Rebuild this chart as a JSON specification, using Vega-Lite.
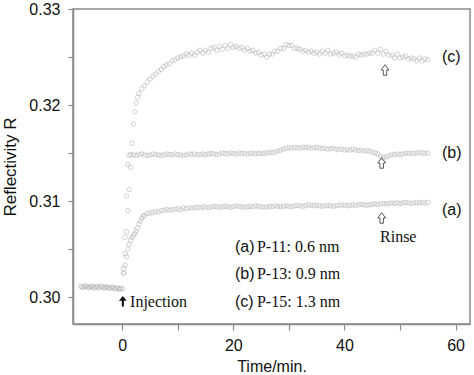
{
  "$schema": "https://vega.github.io/schema/vega-lite/v6.json",
  "autosize": "none",
  "width": 397,
  "height": 315,
  "padding": {"left": 73, "top": 9, "right": 4, "bottom": 51},
  "background": "white",
  "config": {
    "view": {"stroke": "#8a8a8a", "strokeWidth": 1.5},
    "axis": {
      "domainColor": "#8a8a8a", "domainWidth": 1.5, "tickColor": "#8a8a8a", "tickWidth": 1.2,
      "grid": false, "labelFont": "Liberation Sans", "labelFontSize": 16, "labelColor": "#111",
      "titleFont": "Liberation Sans", "titleFontSize": 16, "titleFontWeight": "normal", "titleColor": "#111"
    }
  },
  "datasets": {
    "curves": [
      {"s":"base","t":-7.5,"R":0.30112},{"s":"base","t":-7.25,"R":0.30105},{"s":"base","t":-7,"R":0.30098},{"s":"base","t":-6.75,"R":0.3011},{"s":"base","t":-6.5,"R":0.30115},{"s":"base","t":-6.25,"R":0.30102},{"s":"base","t":-6,"R":0.30096},{"s":"base","t":-5.75,"R":0.30108},{"s":"base","t":-5.5,"R":0.30112},{"s":"base","t":-5.25,"R":0.301},{"s":"base","t":-5,"R":0.30094},{"s":"base","t":-4.75,"R":0.30106},{"s":"base","t":-4.5,"R":0.3011},{"s":"base","t":-4.25,"R":0.30098},{"s":"base","t":-4,"R":0.30102},{"s":"base","t":-3.75,"R":0.30112},{"s":"base","t":-3.5,"R":0.30104},{"s":"base","t":-3.25,"R":0.30092},{"s":"base","t":-3,"R":0.301},{"s":"base","t":-2.75,"R":0.30108},{"s":"base","t":-2.5,"R":0.30096},{"s":"base","t":-2.25,"R":0.30088},{"s":"base","t":-2,"R":0.30098},{"s":"base","t":-1.75,"R":0.30104},{"s":"base","t":-1.5,"R":0.30092},{"s":"base","t":-1.25,"R":0.30086},{"s":"base","t":-1,"R":0.30096},{"s":"base","t":-0.75,"R":0.30088},{"s":"base","t":-0.5,"R":0.3008},{"s":"base","t":-0.25,"R":0.30092},{"s":"base","t":0,"R":0.30085},
      {"s":"c","t":0.25,"R":0.3025},{"s":"c","t":0.5,"R":0.3045},{"s":"c","t":0.75,"R":0.3068},{"s":"c","t":1.0,"R":0.309},{"s":"c","t":1.25,"R":0.3112},{"s":"c","t":1.5,"R":0.3135},{"s":"c","t":1.75,"R":0.316},{"s":"c","t":2.0,"R":0.318},{"s":"c","t":2.25,"R":0.3193},{"s":"c","t":2.5,"R":0.3202},{"s":"c","t":2.75,"R":0.3208},{"s":"c","t":3.0,"R":0.3212},{"s":"c","t":3.5,"R":0.3217},{"s":"c","t":4.0,"R":0.322},{"s":"c","t":4.5,"R":0.3224},{"s":"c","t":5.0,"R":0.3227},{"s":"c","t":5.5,"R":0.323},{"s":"c","t":6.0,"R":0.3232},{"s":"c","t":6.5,"R":0.3235},{"s":"c","t":7.0,"R":0.3237},{"s":"c","t":7.5,"R":0.324},{"s":"c","t":8.0,"R":0.3242},{"s":"c","t":8.5,"R":0.3243},{"s":"c","t":9.0,"R":0.3246},{"s":"c","t":9.5,"R":0.3247},{"s":"c","t":10,"R":0.3249},{"s":"c","t":10.5,"R":0.325},{"s":"c","t":11,"R":0.3251},{"s":"c","t":11.5,"R":0.3253},{"s":"c","t":12,"R":0.3252},{"s":"c","t":12.5,"R":0.3254},{"s":"c","t":13,"R":0.3252},{"s":"c","t":13.5,"R":0.3255},{"s":"c","t":14,"R":0.3257},{"s":"c","t":14.5,"R":0.3254},{"s":"c","t":15,"R":0.3257},{"s":"c","t":15.5,"R":0.3255},{"s":"c","t":16,"R":0.3259},{"s":"c","t":16.5,"R":0.326},{"s":"c","t":17,"R":0.3257},{"s":"c","t":17.5,"R":0.3261},{"s":"c","t":18,"R":0.3258},{"s":"c","t":18.5,"R":0.3262},{"s":"c","t":19,"R":0.3259},{"s":"c","t":19.5,"R":0.3263},{"s":"c","t":20,"R":0.326},{"s":"c","t":20.5,"R":0.3261},{"s":"c","t":21,"R":0.3259},{"s":"c","t":21.5,"R":0.326},{"s":"c","t":22,"R":0.3257},{"s":"c","t":22.5,"R":0.3259},{"s":"c","t":23,"R":0.3256},{"s":"c","t":23.5,"R":0.3257},{"s":"c","t":24,"R":0.3254},{"s":"c","t":24.5,"R":0.3255},{"s":"c","t":25,"R":0.3252},{"s":"c","t":25.5,"R":0.3253},{"s":"c","t":26,"R":0.325},{"s":"c","t":26.5,"R":0.3253},{"s":"c","t":27,"R":0.3253},{"s":"c","t":27.5,"R":0.3256},{"s":"c","t":28,"R":0.3256},{"s":"c","t":28.5,"R":0.3259},{"s":"c","t":29,"R":0.3259},{"s":"c","t":29.5,"R":0.3263},{"s":"c","t":30,"R":0.3262},{"s":"c","t":30.5,"R":0.3262},{"s":"c","t":31,"R":0.3259},{"s":"c","t":31.5,"R":0.3259},{"s":"c","t":32,"R":0.3258},{"s":"c","t":32.5,"R":0.3256},{"s":"c","t":33,"R":0.3257},{"s":"c","t":33.5,"R":0.3255},{"s":"c","t":34,"R":0.3256},{"s":"c","t":34.5,"R":0.3254},{"s":"c","t":35,"R":0.3255},{"s":"c","t":35.5,"R":0.3253},{"s":"c","t":36,"R":0.3256},{"s":"c","t":36.5,"R":0.3254},{"s":"c","t":37,"R":0.3257},{"s":"c","t":37.5,"R":0.3253},{"s":"c","t":38,"R":0.3254},{"s":"c","t":38.5,"R":0.3255},{"s":"c","t":39,"R":0.3253},{"s":"c","t":39.5,"R":0.3254},{"s":"c","t":40,"R":0.3251},{"s":"c","t":40.5,"R":0.3252},{"s":"c","t":41,"R":0.3251},{"s":"c","t":41.5,"R":0.3251},{"s":"c","t":42,"R":0.325},{"s":"c","t":42.5,"R":0.3253},{"s":"c","t":43,"R":0.3252},{"s":"c","t":43.5,"R":0.3253},{"s":"c","t":44,"R":0.3253},{"s":"c","t":44.5,"R":0.3254},{"s":"c","t":45,"R":0.3254},{"s":"c","t":45.5,"R":0.3257},{"s":"c","t":46,"R":0.3254},{"s":"c","t":46.5,"R":0.3258},{"s":"c","t":47,"R":0.3253},{"s":"c","t":47.5,"R":0.3256},{"s":"c","t":48,"R":0.3252},{"s":"c","t":48.5,"R":0.3252},{"s":"c","t":49,"R":0.3249},{"s":"c","t":49.5,"R":0.3253},{"s":"c","t":50,"R":0.3249},{"s":"c","t":50.5,"R":0.325},{"s":"c","t":51,"R":0.3251},{"s":"c","t":51.5,"R":0.3248},{"s":"c","t":52,"R":0.3249},{"s":"c","t":52.5,"R":0.3248},{"s":"c","t":53,"R":0.3246},{"s":"c","t":53.5,"R":0.3249},{"s":"c","t":54,"R":0.3246},{"s":"c","t":54.5,"R":0.3248},{"s":"c","t":55,"R":0.3247},
      {"s":"b","t":0.25,"R":0.303},{"s":"b","t":0.5,"R":0.3062},{"s":"b","t":0.75,"R":0.3105},{"s":"b","t":1.0,"R":0.3138},{"s":"b","t":1.25,"R":0.31475},{"s":"b","t":1.5,"R":0.31485},{"s":"b","t":2,"R":0.3148},{"s":"b","t":2.5,"R":0.31475},{"s":"b","t":3,"R":0.31485},{"s":"b","t":3.5,"R":0.3149},{"s":"b","t":4,"R":0.3148},{"s":"b","t":4.5,"R":0.31475},{"s":"b","t":5,"R":0.3148},{"s":"b","t":5.5,"R":0.3149},{"s":"b","t":6,"R":0.31485},{"s":"b","t":6.5,"R":0.3148},{"s":"b","t":7,"R":0.31475},{"s":"b","t":7.5,"R":0.3148},{"s":"b","t":8,"R":0.3149},{"s":"b","t":8.5,"R":0.31485},{"s":"b","t":9,"R":0.3148},{"s":"b","t":9.5,"R":0.3149},{"s":"b","t":10,"R":0.31485},{"s":"b","t":10.5,"R":0.3148},{"s":"b","t":11,"R":0.31475},{"s":"b","t":11.5,"R":0.3148},{"s":"b","t":12,"R":0.3149},{"s":"b","t":12.5,"R":0.31485},{"s":"b","t":13,"R":0.3149},{"s":"b","t":13.5,"R":0.3148},{"s":"b","t":14,"R":0.31485},{"s":"b","t":14.5,"R":0.3149},{"s":"b","t":15,"R":0.3148},{"s":"b","t":15.5,"R":0.3149},{"s":"b","t":16,"R":0.31495},{"s":"b","t":16.5,"R":0.3149},{"s":"b","t":17,"R":0.31485},{"s":"b","t":17.5,"R":0.3149},{"s":"b","t":18,"R":0.315},{"s":"b","t":18.5,"R":0.31495},{"s":"b","t":19,"R":0.3149},{"s":"b","t":19.5,"R":0.315},{"s":"b","t":20,"R":0.31495},{"s":"b","t":20.5,"R":0.3149},{"s":"b","t":21,"R":0.315},{"s":"b","t":21.5,"R":0.31495},{"s":"b","t":22,"R":0.315},{"s":"b","t":22.5,"R":0.3149},{"s":"b","t":23,"R":0.31495},{"s":"b","t":23.5,"R":0.315},{"s":"b","t":24,"R":0.3149},{"s":"b","t":24.5,"R":0.31495},{"s":"b","t":25,"R":0.315},{"s":"b","t":25.5,"R":0.31495},{"s":"b","t":26,"R":0.315},{"s":"b","t":26.5,"R":0.31505},{"s":"b","t":27,"R":0.315},{"s":"b","t":27.5,"R":0.3151},{"s":"b","t":28,"R":0.3152},{"s":"b","t":28.5,"R":0.3153},{"s":"b","t":29,"R":0.3154},{"s":"b","t":29.5,"R":0.3155},{"s":"b","t":30,"R":0.31555},{"s":"b","t":30.5,"R":0.3155},{"s":"b","t":31,"R":0.3156},{"s":"b","t":31.5,"R":0.31555},{"s":"b","t":32,"R":0.3155},{"s":"b","t":32.5,"R":0.3156},{"s":"b","t":33,"R":0.31555},{"s":"b","t":33.5,"R":0.3156},{"s":"b","t":34,"R":0.3155},{"s":"b","t":34.5,"R":0.31555},{"s":"b","t":35,"R":0.3156},{"s":"b","t":35.5,"R":0.3155},{"s":"b","t":36,"R":0.31545},{"s":"b","t":36.5,"R":0.3155},{"s":"b","t":37,"R":0.3154},{"s":"b","t":37.5,"R":0.31545},{"s":"b","t":38,"R":0.3155},{"s":"b","t":38.5,"R":0.3154},{"s":"b","t":39,"R":0.31535},{"s":"b","t":39.5,"R":0.3154},{"s":"b","t":40,"R":0.3153},{"s":"b","t":40.5,"R":0.31535},{"s":"b","t":41,"R":0.3153},{"s":"b","t":41.5,"R":0.3154},{"s":"b","t":42,"R":0.3153},{"s":"b","t":42.5,"R":0.31525},{"s":"b","t":43,"R":0.3153},{"s":"b","t":43.5,"R":0.3152},{"s":"b","t":44,"R":0.31525},{"s":"b","t":44.5,"R":0.3152},{"s":"b","t":45,"R":0.3151},{"s":"b","t":45.5,"R":0.315},{"s":"b","t":46,"R":0.3149},{"s":"b","t":46.5,"R":0.3147},{"s":"b","t":47,"R":0.3145},{"s":"b","t":47.5,"R":0.3146},{"s":"b","t":48,"R":0.3147},{"s":"b","t":48.5,"R":0.3148},{"s":"b","t":49,"R":0.31485},{"s":"b","t":49.5,"R":0.3149},{"s":"b","t":50,"R":0.31485},{"s":"b","t":50.5,"R":0.3149},{"s":"b","t":51,"R":0.315},{"s":"b","t":51.5,"R":0.31495},{"s":"b","t":52,"R":0.315},{"s":"b","t":52.5,"R":0.31495},{"s":"b","t":53,"R":0.315},{"s":"b","t":53.5,"R":0.31505},{"s":"b","t":54,"R":0.315},{"s":"b","t":54.5,"R":0.31495},{"s":"b","t":55,"R":0.315},
      {"s":"a","t":0.25,"R":0.3025},{"s":"a","t":0.5,"R":0.3033},{"s":"a","t":0.75,"R":0.3042},{"s":"a","t":1,"R":0.305},{"s":"a","t":1.25,"R":0.3055},{"s":"a","t":1.5,"R":0.3059},{"s":"a","t":1.75,"R":0.3062},{"s":"a","t":2,"R":0.3064},{"s":"a","t":2.25,"R":0.3066},{"s":"a","t":2.5,"R":0.3069},{"s":"a","t":2.75,"R":0.3072},{"s":"a","t":3,"R":0.3076},{"s":"a","t":3.25,"R":0.3079},{"s":"a","t":3.5,"R":0.3082},{"s":"a","t":3.75,"R":0.3084},{"s":"a","t":4,"R":0.3085},{"s":"a","t":4.5,"R":0.3087},{"s":"a","t":5,"R":0.30875},{"s":"a","t":5.5,"R":0.3088},{"s":"a","t":6,"R":0.3089},{"s":"a","t":6.5,"R":0.30885},{"s":"a","t":7,"R":0.309},{"s":"a","t":7.5,"R":0.30905},{"s":"a","t":8,"R":0.3091},{"s":"a","t":8.5,"R":0.30905},{"s":"a","t":9,"R":0.3091},{"s":"a","t":9.5,"R":0.30915},{"s":"a","t":10,"R":0.3092},{"s":"a","t":10.5,"R":0.3091},{"s":"a","t":11,"R":0.30925},{"s":"a","t":11.5,"R":0.3092},{"s":"a","t":12,"R":0.3093},{"s":"a","t":12.5,"R":0.30925},{"s":"a","t":13,"R":0.3093},{"s":"a","t":13.5,"R":0.30935},{"s":"a","t":14,"R":0.3093},{"s":"a","t":14.5,"R":0.3094},{"s":"a","t":15,"R":0.30935},{"s":"a","t":15.5,"R":0.3093},{"s":"a","t":16,"R":0.3094},{"s":"a","t":16.5,"R":0.30945},{"s":"a","t":17,"R":0.3094},{"s":"a","t":17.5,"R":0.30935},{"s":"a","t":18,"R":0.3094},{"s":"a","t":18.5,"R":0.30945},{"s":"a","t":19,"R":0.3094},{"s":"a","t":19.5,"R":0.30935},{"s":"a","t":20,"R":0.3094},{"s":"a","t":20.5,"R":0.3095},{"s":"a","t":21,"R":0.30945},{"s":"a","t":21.5,"R":0.3094},{"s":"a","t":22,"R":0.30935},{"s":"a","t":22.5,"R":0.3094},{"s":"a","t":23,"R":0.30945},{"s":"a","t":23.5,"R":0.3094},{"s":"a","t":24,"R":0.3095},{"s":"a","t":24.5,"R":0.30945},{"s":"a","t":25,"R":0.3094},{"s":"a","t":25.5,"R":0.30935},{"s":"a","t":26,"R":0.3094},{"s":"a","t":26.5,"R":0.30945},{"s":"a","t":27,"R":0.3094},{"s":"a","t":27.5,"R":0.3095},{"s":"a","t":28,"R":0.30945},{"s":"a","t":28.5,"R":0.3094},{"s":"a","t":29,"R":0.30945},{"s":"a","t":29.5,"R":0.3095},{"s":"a","t":30,"R":0.30945},{"s":"a","t":30.5,"R":0.3094},{"s":"a","t":31,"R":0.3095},{"s":"a","t":31.5,"R":0.30955},{"s":"a","t":32,"R":0.3095},{"s":"a","t":32.5,"R":0.30945},{"s":"a","t":33,"R":0.3095},{"s":"a","t":33.5,"R":0.3096},{"s":"a","t":34,"R":0.30955},{"s":"a","t":34.5,"R":0.3095},{"s":"a","t":35,"R":0.30955},{"s":"a","t":35.5,"R":0.3095},{"s":"a","t":36,"R":0.30945},{"s":"a","t":36.5,"R":0.3095},{"s":"a","t":37,"R":0.30955},{"s":"a","t":37.5,"R":0.3095},{"s":"a","t":38,"R":0.30945},{"s":"a","t":38.5,"R":0.3095},{"s":"a","t":39,"R":0.30955},{"s":"a","t":39.5,"R":0.3096},{"s":"a","t":40,"R":0.30955},{"s":"a","t":40.5,"R":0.3095},{"s":"a","t":41,"R":0.30955},{"s":"a","t":41.5,"R":0.3096},{"s":"a","t":42,"R":0.30955},{"s":"a","t":42.5,"R":0.3096},{"s":"a","t":43,"R":0.30965},{"s":"a","t":43.5,"R":0.3096},{"s":"a","t":44,"R":0.30955},{"s":"a","t":44.5,"R":0.3096},{"s":"a","t":45,"R":0.30965},{"s":"a","t":45.5,"R":0.3097},{"s":"a","t":46,"R":0.30965},{"s":"a","t":46.5,"R":0.3097},{"s":"a","t":47,"R":0.30975},{"s":"a","t":47.5,"R":0.3097},{"s":"a","t":48,"R":0.30975},{"s":"a","t":48.5,"R":0.3098},{"s":"a","t":49,"R":0.30975},{"s":"a","t":49.5,"R":0.3098},{"s":"a","t":50,"R":0.30975},{"s":"a","t":50.5,"R":0.3098},{"s":"a","t":51,"R":0.30985},{"s":"a","t":51.5,"R":0.3098},{"s":"a","t":52,"R":0.30975},{"s":"a","t":52.5,"R":0.3098},{"s":"a","t":53,"R":0.30985},{"s":"a","t":53.5,"R":0.3098},{"s":"a","t":54,"R":0.30985},{"s":"a","t":54.5,"R":0.3098},{"s":"a","t":55,"R":0.30985}
    ],
    "sans": [
      {"t":57.55,"R":0.3250,"txt":"(c)"},
      {"t":57.55,"R":0.3150,"txt":"(b)"},
      {"t":57.55,"R":0.3091,"txt":"(a)"},
      {"t":20.3,"R":0.30521,"txt":"(a)"},
      {"t":20.3,"R":0.3024,"txt":"(b)"},
      {"t":20.3,"R":0.29948,"txt":"(c)"}
    ],
    "serif": [
      {"t":24.25,"R":0.30521,"txt":"P-11: 0.6 nm"},
      {"t":24.25,"R":0.3024,"txt":"P-13: 0.9 nm"},
      {"t":24.25,"R":0.29948,"txt":"P-15: 1.3 nm"},
      {"t":46.4,"R":0.30625,"txt":"Rinse"},
      {"t":1.4,"R":0.29948,"txt":"Injection"}
    ],
    "hollow": [
      {"t":47.3,"R":0.32365},
      {"t":46.7,"R":0.31396},
      {"t":46.7,"R":0.30823}
    ],
    "solid": [
      {"t":0.1,"R":0.29955}
    ]
  },
  "layer": [
    {
      "data": {"name": "curves"},
      "mark": {"type": "point", "shape": "circle", "filled": false, "size": 20, "stroke": "#b0b0b0", "strokeWidth": 0.8, "clip": true},
      "encoding": {
        "x": {"field": "t", "type": "quantitative", "scale": {"domain": [-8.87, 62.6], "nice": false, "zero": false},
          "axis": {"title": "Time/min.", "values": [0,10,20,30,40,50,60], "labelExpr": "datum.value % 20 === 0 ? datum.label : ''",
            "tickSize": 6, "labelPadding": 7, "titlePadding": 5, "labelFlush": false,
            "encode": {"ticks": {"update": {"y2": {"signal": "datum.value % 20 === 0 ? 7 : 3"}}}}}},
        "y": {"field": "R", "type": "quantitative", "scale": {"domain": [0.29719, 0.33], "nice": false, "zero": false},
          "axis": {"title": "Reflectivity R", "values": [0.30,0.305,0.31,0.315,0.32,0.325,0.33],
            "labelExpr": "round(datum.value*1000) % 10 === 0 ? format(datum.value, '.2f') : ''",
            "tickSize": 5, "labelPadding": 8, "titlePadding": 9, "titleFontSize": 17, "labelFlush": false,
            "encode": {"ticks": {"update": {"x2": {"signal": "round(datum.value*1000) % 10 === 0 ? -5 : -4"}}}}}}
      }
    },
    {
      "data": {"name": "sans"},
      "mark": {"type": "text", "font": "Liberation Sans", "fontSize": 16, "align": "left", "baseline": "middle", "color": "#111"},
      "encoding": {"x": {"field": "t", "type": "quantitative"}, "y": {"field": "R", "type": "quantitative"}, "text": {"field": "txt"}}
    },
    {
      "data": {"name": "serif"},
      "mark": {"type": "text", "font": "Liberation Serif", "fontSize": 16, "align": "left", "baseline": "middle", "color": "#111"},
      "encoding": {"x": {"field": "t", "type": "quantitative"}, "y": {"field": "R", "type": "quantitative"}, "text": {"field": "txt"}}
    },
    {
      "data": {"name": "hollow"},
      "mark": {"type": "point", "shape": "M-0.33,1L-0.33,0L-0.75,0L0,-1L0.75,0L0.33,0L0.33,1Z", "filled": false, "size": 110, "stroke": "#111", "strokeWidth": 1},
      "encoding": {"x": {"field": "t", "type": "quantitative"}, "y": {"field": "R", "type": "quantitative"}}
    },
    {
      "data": {"name": "solid"},
      "mark": {"type": "point", "shape": "M-0.2,1L-0.2,-0.1L-0.75,-0.1L0,-1L0.75,-0.1L0.2,-0.1L0.2,1Z", "filled": true, "size": 110, "fill": "#111", "strokeWidth": 0, "opacity": 1},
      "encoding": {"x": {"field": "t", "type": "quantitative"}, "y": {"field": "R", "type": "quantitative"}}
    }
  ]
}
